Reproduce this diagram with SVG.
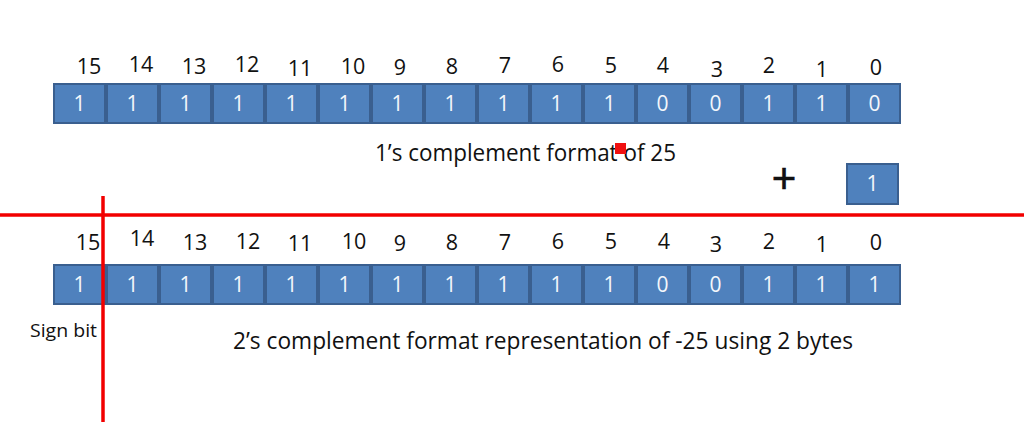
<svg xmlns="http://www.w3.org/2000/svg" width="1024" height="448" viewBox="0 0 1024 448">
<style>
.cell{fill:#4F81BD;stroke:#3A5F8F;stroke-width:2}
.bit{font-family:"Open Sans","Liberation Sans",Arial,sans-serif;font-size:21px;fill:#F4F7FB;text-anchor:middle}
.lbl{font-family:"Open Sans","Liberation Sans",Arial,sans-serif;font-size:21.5px;fill:#111;text-anchor:middle}
.cap{font-family:"Open Sans","Liberation Sans",Arial,sans-serif;font-size:23px;fill:#111}
.red{stroke:#F20000;stroke-width:3.5;fill:none}
</style>
<rect width="1024" height="448" fill="#FFFFFF"/>
<g id="row-1s-complement">
<g id="t15"><rect class="cell" x="54" y="84" width="51" height="39"/><text class="bit" x="79.5" y="111">1</text></g>
<g id="t14"><rect class="cell" x="107" y="84" width="51" height="39"/><text class="bit" x="132.5" y="111">1</text></g>
<g id="t13"><rect class="cell" x="160" y="84" width="51" height="39"/><text class="bit" x="185.5" y="111">1</text></g>
<g id="t12"><rect class="cell" x="213" y="84" width="51" height="39"/><text class="bit" x="238.5" y="111">1</text></g>
<g id="t11"><rect class="cell" x="266" y="84" width="51" height="39"/><text class="bit" x="291.5" y="111">1</text></g>
<g id="t10"><rect class="cell" x="319" y="84" width="51" height="39"/><text class="bit" x="344.5" y="111">1</text></g>
<g id="t9"><rect class="cell" x="372" y="84" width="51" height="39"/><text class="bit" x="397.5" y="111">1</text></g>
<g id="t8"><rect class="cell" x="425" y="84" width="51" height="39"/><text class="bit" x="450.5" y="111">1</text></g>
<g id="t7"><rect class="cell" x="478" y="84" width="51" height="39"/><text class="bit" x="503.5" y="111">1</text></g>
<g id="t6"><rect class="cell" x="531" y="84" width="51" height="39"/><text class="bit" x="556.5" y="111">1</text></g>
<g id="t5"><rect class="cell" x="584" y="84" width="51" height="39"/><text class="bit" x="609.5" y="111">1</text></g>
<g id="t4"><rect class="cell" x="637" y="84" width="51" height="39"/><text class="bit" x="662.5" y="111">0</text></g>
<g id="t3"><rect class="cell" x="690" y="84" width="51" height="39"/><text class="bit" x="715.5" y="111">0</text></g>
<g id="t2"><rect class="cell" x="743" y="84" width="51" height="39"/><text class="bit" x="768.5" y="111">1</text></g>
<g id="t1"><rect class="cell" x="796" y="84" width="51" height="39"/><text class="bit" x="821.5" y="111">1</text></g>
<g id="t0"><rect class="cell" x="849" y="84" width="51" height="39"/><text class="bit" x="874.5" y="111">0</text></g>
</g>
<g id="labels-top">
<text class="lbl" x="89" y="74">15</text>
<text class="lbl" x="141" y="72">14</text>
<text class="lbl" x="194" y="74">13</text>
<text class="lbl" x="247" y="72">12</text>
<text class="lbl" x="300" y="76">11</text>
<text class="lbl" x="353" y="74">10</text>
<text class="lbl" x="400" y="75">9</text>
<text class="lbl" x="452" y="74">8</text>
<text class="lbl" x="505" y="73">7</text>
<text class="lbl" x="558" y="72">6</text>
<text class="lbl" x="611" y="73">5</text>
<text class="lbl" x="663" y="73">4</text>
<text class="lbl" x="717" y="77">3</text>
<text class="lbl" x="769" y="73">2</text>
<text class="lbl" x="822" y="77">1</text>
<text class="lbl" x="876" y="75">0</text>
</g>
<g id="caption-1s"><text class="cap" x="375" y="161" textLength="301" lengthAdjust="spacingAndGlyphs">1’s complement format of 25</text></g>
<rect id="pointer" x="615" y="143" width="11" height="11" fill="#F01010"/>
<g id="plus"><text x="784" y="193" font-family="'Liberation Sans',Arial,sans-serif" font-size="42" fill="#111" text-anchor="middle" stroke="#111" stroke-width="0.6">+</text></g>
<g id="add-one"><rect class="cell" x="847" y="164" width="51" height="40"/><text class="bit" x="872.5" y="191">1</text></g>
<g id="row-2s-complement">
<g id="b15"><rect class="cell" x="54" y="265" width="51" height="39"/><text class="bit" x="79.5" y="292">1</text></g>
<g id="b14"><rect class="cell" x="107" y="265" width="51" height="39"/><text class="bit" x="132.5" y="292">1</text></g>
<g id="b13"><rect class="cell" x="160" y="265" width="51" height="39"/><text class="bit" x="185.5" y="292">1</text></g>
<g id="b12"><rect class="cell" x="213" y="265" width="51" height="39"/><text class="bit" x="238.5" y="292">1</text></g>
<g id="b11"><rect class="cell" x="266" y="265" width="51" height="39"/><text class="bit" x="291.5" y="292">1</text></g>
<g id="b10"><rect class="cell" x="319" y="265" width="51" height="39"/><text class="bit" x="344.5" y="292">1</text></g>
<g id="b9"><rect class="cell" x="372" y="265" width="51" height="39"/><text class="bit" x="397.5" y="292">1</text></g>
<g id="b8"><rect class="cell" x="425" y="265" width="51" height="39"/><text class="bit" x="450.5" y="292">1</text></g>
<g id="b7"><rect class="cell" x="478" y="265" width="51" height="39"/><text class="bit" x="503.5" y="292">1</text></g>
<g id="b6"><rect class="cell" x="531" y="265" width="51" height="39"/><text class="bit" x="556.5" y="292">1</text></g>
<g id="b5"><rect class="cell" x="584" y="265" width="51" height="39"/><text class="bit" x="609.5" y="292">1</text></g>
<g id="b4"><rect class="cell" x="637" y="265" width="51" height="39"/><text class="bit" x="662.5" y="292">0</text></g>
<g id="b3"><rect class="cell" x="690" y="265" width="51" height="39"/><text class="bit" x="715.5" y="292">0</text></g>
<g id="b2"><rect class="cell" x="743" y="265" width="51" height="39"/><text class="bit" x="768.5" y="292">1</text></g>
<g id="b1"><rect class="cell" x="796" y="265" width="51" height="39"/><text class="bit" x="821.5" y="292">1</text></g>
<g id="b0"><rect class="cell" x="849" y="265" width="51" height="39"/><text class="bit" x="874.5" y="292">1</text></g>
</g>
<g id="labels-bottom">
<text class="lbl" x="88" y="250">15</text>
<text class="lbl" x="142" y="246">14</text>
<text class="lbl" x="195" y="250">13</text>
<text class="lbl" x="248" y="249">12</text>
<text class="lbl" x="300" y="251">11</text>
<text class="lbl" x="354" y="249">10</text>
<text class="lbl" x="400" y="251">9</text>
<text class="lbl" x="452" y="250">8</text>
<text class="lbl" x="505" y="250">7</text>
<text class="lbl" x="558" y="249">6</text>
<text class="lbl" x="611" y="249">5</text>
<text class="lbl" x="664" y="249">4</text>
<text class="lbl" x="716" y="252">3</text>
<text class="lbl" x="769" y="249">2</text>
<text class="lbl" x="822" y="252">1</text>
<text class="lbl" x="876" y="250">0</text>
</g>
<g id="caption-2s"><text class="cap" x="233" y="349" textLength="620" lengthAdjust="spacingAndGlyphs">2’s complement format representation of -25 using 2 bytes</text></g>
<g id="sign-bit-label"><text x="30" y="337" font-family="'Open Sans','Liberation Sans',Arial,sans-serif" font-size="18" fill="#111" textLength="67" lengthAdjust="spacingAndGlyphs">Sign bit</text></g>
<g id="connectors">
<line class="red" x1="0" y1="215" x2="1024" y2="215"/>
<line class="red" x1="103" y1="196" x2="103" y2="422"/>
</g>
</svg>
